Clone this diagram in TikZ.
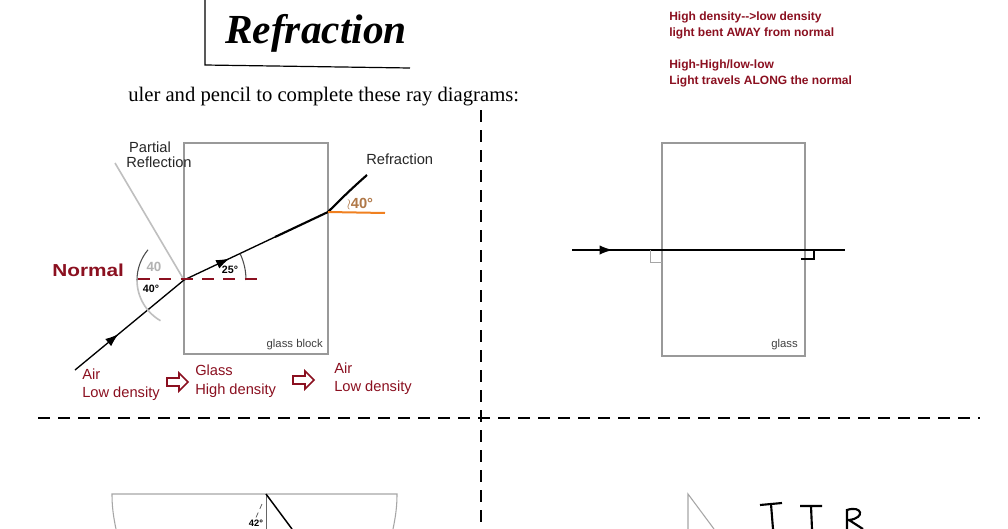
\documentclass[tikz,border=0pt]{standalone}
\usepackage{fontspec}
\setmainfont{Liberation Serif}
\setsansfont{Liberation Sans}
\usetikzlibrary{arrows.meta,decorations.markings}
\definecolor{dred}{HTML}{8B1020}
\definecolor{brn}{HTML}{B07848}
\definecolor{org}{HTML}{F08020}
\tikzset{
  lbl/.style={font=\sffamily\fontsize{11}{12}\selectfont, text=dred, anchor=west, inner sep=0pt},
  note/.style={font=\sffamily\bfseries\fontsize{9}{10}\selectfont, text=dred, anchor=west, inner sep=0pt},
  blk/.style={draw=gray!80, line width=0.9pt},
  ray/.style={line width=1.3pt, black},
  midarrow/.style={postaction={decorate}, decoration={markings, mark=at position #1 with {\arrow{Latex[length=10pt,width=7pt]}}}},
  sep/.style={line width=1.4pt, dash pattern=on 9pt off 6pt},
  hollow/.style={draw=dred, line width=1.2pt, fill=white},
}
\begin{document}
\begin{tikzpicture}[x=0.75pt,y=-0.75pt]
\useasboundingbox (0,0) rectangle (1008,529);
\fill[white] (0,0) rectangle (1008,529);
% title
\draw[line width=0.9pt] (205,0) -- (205,65) -- (410,68);
\node[font=\bfseries\itshape\fontsize{31}{33}\selectfont, inner sep=0pt] (title) at (316,33) {Refraction};
\node[font=\fontsize{15.5}{17}\selectfont, anchor=west, inner sep=0pt] (sub) at (128,97) {uler and pencil to complete these ray diagrams:};
% notes
\node[note] (n1) at (669,17) {High density-{}-{}>low density};
\node[note] (n2) at (669,33) {light bent AWAY from normal};
\node[note] (n3) at (669,65) {High-High/low-low};
\node[note] (n4) at (669,81) {Light travels ALONG the normal};
% separators
\draw[sep] (481,110) -- (481,529);
\draw[sep] (38,418) -- (980,418);
% block 1
\node[blk, minimum width=108pt, minimum height=158.25pt, inner sep=0pt] (b1) at (256,248.5) {};
\node[font=\sffamily\fontsize{8.5}{9}\selectfont, text=black!75, anchor=east, inner sep=0pt] (gb) at (323,345) {glass block};
\coordinate (P) at (184,280);
\coordinate (Q) at (328,212);
\coordinate (S) at (75,370);
\coordinate (M) at (275,237);
\coordinate (R) at (115,163);
\coordinate (T) at (367,175);
\draw[gray!50, line width=1.2pt] (P) -- (R);
\draw[ray, line width=1pt, midarrow=0.4] (S) -- (P);
\draw[ray, line width=1pt, midarrow=0.5] (P) -- (M);
\draw[ray, line width=1.6pt] (M) -- (Q);
\draw[ray, line width=1.6pt] (Q) .. controls (340,200) and (350,190) .. (T);
\draw[org, line width=1.5pt] (Q) -- (385,213);
\node[text=brn, font=\sffamily\bfseries\fontsize{11}{12}\selectfont, inner sep=0pt] (f40) at (360,205) {$\mathsf{\wr}$40°};
% angles
\draw[gray!50, line width=1.2pt] (P) ++(180:47) arc[start angle=180, end angle=120, radius=47];
\draw[black!70, line width=0.8pt] (P) ++(180:47) arc[start angle=180, end angle=220, radius=47];
\draw[black!70, line width=0.8pt] (P) ++(0:62) arc[start angle=0, end angle=-25, radius=62];
\node[text=gray!60, font=\sffamily\bfseries\fontsize{10}{11}\selectfont, inner sep=0pt] (a40g) at (154,267) {40};
\node[font=\sffamily\bfseries\fontsize{8}{9}\selectfont, inner sep=0pt] (a40) at (151,289) {40°};
\node[font=\sffamily\bfseries\fontsize{8}{9}\selectfont, inner sep=0pt] (a25) at (230,270) {25°};
% normal
\draw[dred, line width=1.6pt, dash pattern=on 9pt off 7pt] (138,279) -- (265,279);
\node[text=dred, font=\sffamily\bfseries\fontsize{13}{14}\selectfont, anchor=west, inner sep=0pt, xscale=1.2] (nm) at (52,270) {Normal};
\node[text=black!85, font=\sffamily\fontsize{11}{12}\selectfont, inner sep=0pt] (pr1) at (150,147) {Partial};
\node[text=black!85, font=\sffamily\fontsize{11}{12}\selectfont, inner sep=0pt] (pr2) at (159,162) {Reflection};
\node[text=black!85, font=\sffamily\fontsize{11}{12}\selectfont, anchor=west, inner sep=0pt] (rf) at (366,159) {Refraction};
% bottom labels
\node[lbl] (l1) at (82,374) {Air};
\node[lbl] (l2) at (82,394) {Low density};
\node[lbl] (l3) at (195,370) {Glass};
\node[lbl] (l4) at (195,391) {High density};
\node[lbl] (l5) at (334,368) {Air};
\node[lbl] (l6) at (334,388) {Low density};
\foreach \x/\y in {167/382, 293/380}{
  \draw[hollow] (\x,\y-4) -- (\x+12,\y-4) -- (\x+12,\y-9) -- (\x+21,\y) -- (\x+12,\y+9) -- (\x+12,\y+4) -- (\x,\y+4) -- cycle;
}
% block 2
\node[blk, minimum width=107.25pt, minimum height=159.75pt, inner sep=0pt] (b2) at (733.5,249.5) {};
\node[font=\sffamily\fontsize{8.5}{9}\selectfont, text=black!75, anchor=east, inner sep=0pt] (gl) at (798,345) {glass};
\coordinate (U) at (572,250);
\coordinate (V) at (845,250);
\draw[ray, midarrow=0.15] (U) -- (V);
\draw[gray!70, line width=0.7pt] (650,250) -- (650,262) -- (662,262);
\draw[black, line width=1.6pt] (801,259) -- (814,259) -- (814,250);
% bottom partial shapes
\draw[gray!70, line width=0.8pt] (116,529) .. controls (113,515) and (112,505) .. (112,494) -- (397,494) .. controls (397,505) and (396,515) .. (393,529);
\draw[black!60, line width=0.6pt] (266,494) -- (266,529);
\draw[black, line width=1.1pt] (266,494) -- (292,529);
\draw[black!60, line width=0.6pt, dash pattern=on 4pt off 3pt] (262,504) -- (254,522);
\node[font=\sffamily\bfseries\fontsize{7}{8}\selectfont, inner sep=0pt] (a42) at (256,523) {42°};
\draw[gray!70, line width=0.8pt] (688,529) -- (688,494) -- (714,529);
\draw[black, line width=1.6pt] (760,505) -- (782,503) (771,504) -- (773,529);
\draw[black, line width=1.6pt] (800,506) -- (822,506) (811,506) -- (812,529);
\draw[black, line width=1.6pt] (847,529) -- (847,510) .. controls (862,505) and (866,518) .. (849,520) -- (863,529);
\end{tikzpicture}
\end{document}
